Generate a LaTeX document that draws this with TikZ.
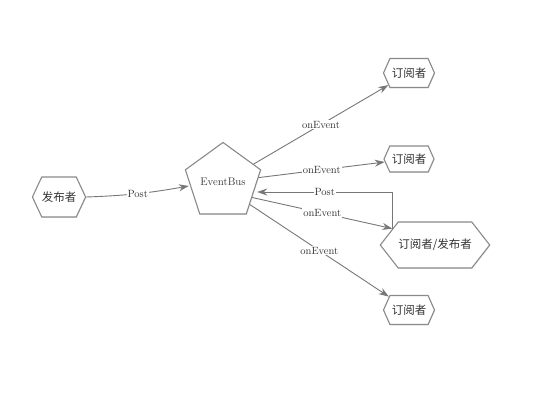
\documentclass[tikz,border=0pt]{standalone}
\usepackage{fontspec}
\newfontfamily\cjk{Noto Sans CJK SC}
\usetikzlibrary{shapes.geometric,shapes.symbols,arrows.meta,shadows}
\definecolor{edgegray}{HTML}{777777}
\definecolor{bordergray}{HTML}{8A8A8A}
\definecolor{textgray}{HTML}{333333}
\begin{document}
\begin{tikzpicture}[x=1pt,y=-1pt,
  hexbox/.style={signal, signal to=east and west, draw=bordergray, line width=1.1pt,
    fill=white, text=textgray, font=\cjk\fontsize{11.5}{13}\selectfont, inner sep=0pt,
    drop shadow={opacity=0.15,shadow xshift=0.8pt,shadow yshift=-0.8pt}},
  pentbox/.style={regular polygon, regular polygon sides=5, minimum size=72pt, inner sep=0pt,
    draw=bordergray, line width=1.1pt, fill=white, text=textgray,
    font=\fontsize{11}{13}\selectfont,
    drop shadow={opacity=0.15,shadow xshift=0.8pt,shadow yshift=-0.8pt}},
  edge/.style={draw=edgegray, line width=0.9pt, -{Stealth[length=10pt,width=7pt]}},
  lbl/.style={fill=white, inner sep=1pt, text=textgray, font=\fontsize{10.5}{12}\selectfont}
]
\useasboundingbox (0,0) rectangle (559,402);

\node[hexbox, minimum width=49pt, minimum height=40pt, signal pointer angle=130] (pub) at (59,197) {发布者};
\node[pentbox] (eb) at (223,182) {EventBus};
\node[hexbox, minimum width=51pt, minimum height=29pt, signal pointer angle=132] (s1) at (409,73) {订阅者};
\node[hexbox, minimum width=50pt, minimum height=26pt, signal pointer angle=132] (s2) at (409,159) {订阅者};
\node[hexbox, minimum width=105pt, minimum height=46pt, signal pointer angle=104] (sp) at (435,245) {订阅者/发布者};
\node[hexbox, minimum width=51pt, minimum height=29pt, signal pointer angle=132] (s3) at (409,310) {订阅者};

\coordinate (spin) at (sp.159);

\draw[edge] (pub.east) to[out=2,in=190] node[lbl] {Post} ([yshift=-4pt]eb.west);
\draw[edge] (eb) -- node[lbl] {onEvent} (s1);
\draw[edge] (eb) -- node[lbl] {onEvent} (s2);
\draw[edge] (spin) |- node[lbl, pos=0.75] {Post} ([yshift=-10pt]eb.east);
\draw[edge] (eb.-28) -- node[lbl] {onEvent} (spin);
\draw[edge] (eb.-40) -- node[lbl] {onEvent} (s3);
\end{tikzpicture}
\end{document}
